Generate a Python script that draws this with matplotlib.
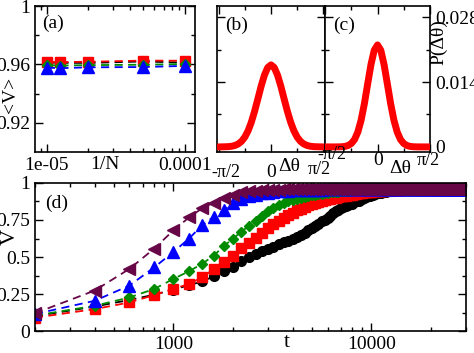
import numpy as np
import matplotlib.pyplot as plt
from matplotlib.ticker import NullFormatter

plt.rcParams['font.family'] = ['Liberation Serif', 'DejaVu Serif']
plt.rcParams['font.size'] = 14

# colours (xmgrace palette)
c_black, c_red, c_green, c_blue, c_maroon = 'black', '#ff0000', '#008b00', '#0000ff', '#670748'

# ---- panel (a): <V> vs 1/N
inv_N = [1e-5, 1.25e-5, 2e-5, 5e-5, 1e-4]
a_black = [0.9612, 0.9611, 0.9610, 0.9620, 0.9612]
a_red = [0.9617, 0.9616, 0.9618, 0.9626, 0.9625]
a_green = [0.9596, 0.9592, 0.9595, 0.9598, 0.9602]
a_blue = [0.9578, 0.9574, 0.9580, 0.9582, 0.9590]

# ---- panels (b), (c): P(dtheta)
dtheta = np.arange(-16, 17) * np.pi / 32
p_b = [0, 0.00001, 0.00003, 0.00006, 0.00014, 0.00031, 0.00063, 0.00119, 0.00209,
       0.00345, 0.00532, 0.00768, 0.01037, 0.01311, 0.01549, 0.01712, 0.0177,
       0.01712, 0.01549, 0.01311, 0.01037, 0.00768, 0.00532, 0.00345, 0.00209,
       0.00119, 0.00063, 0.00031, 0.00014, 0.00006, 0.00003, 0.00001, 0]
p_c = [0, 0, 0, 0, 0.00001, 0.00003, 0.0001, 0.00029, 0.00072, 0.0016, 0.0032,
       0.00577, 0.00934, 0.01359, 0.01775, 0.02085, 0.0220,
       0.02085, 0.01775, 0.01359, 0.00934, 0.00577, 0.0032, 0.0016, 0.00072,
       0.00029, 0.0001, 0.00003, 0.00001, 0, 0, 0, 0]
# fitted curves (black), nearly hidden under the data
fit_b = [0, 0.00001, 0.00003, 0.00006, 0.00014, 0.00031, 0.00063, 0.00119, 0.00209,
         0.00345, 0.00532, 0.00768, 0.01037, 0.01313, 0.01553, 0.01718, 0.0178,
         0.01718, 0.01553, 0.01313, 0.01037, 0.00768, 0.00532, 0.00345, 0.00209,
         0.00119, 0.00063, 0.00031, 0.00014, 0.00006, 0.00003, 0.00001, 0]
fit_c = [0, 0, 0, 0, 0.00001, 0.00003, 0.0001, 0.00029, 0.00072, 0.0016, 0.0032,
         0.00577, 0.00934, 0.01362, 0.01785, 0.02105, 0.0224,
         0.02105, 0.01785, 0.01362, 0.00934, 0.00577, 0.0032, 0.0016, 0.00072,
         0.00029, 0.0001, 0.00003, 0.00001, 0, 0, 0, 0]

# ---- panel (d): V(t)
t = np.arange(200, 30001, 200)
v_black = [
    0.10, 0.165, 0.21, 0.245, 0.28, 0.31, 0.335, 0.37, 0.405, 0.435,
    0.475, 0.50, 0.52, 0.54, 0.555, 0.57, 0.585, 0.60, 0.61, 0.62,
    0.635, 0.65, 0.665, 0.68, 0.695, 0.71, 0.725, 0.74, 0.75, 0.765,
    0.78, 0.795, 0.81, 0.82, 0.83, 0.84, 0.845, 0.85, 0.855, 0.86,
    0.87, 0.875, 0.88, 0.89, 0.895, 0.90, 0.905, 0.91, 0.915, 0.92,
    0.92, 0.925, 0.93, 0.93, 0.935, 0.935, 0.94, 0.94, 0.94, 0.945,
    0.945, 0.945, 0.948, 0.948, 0.95, 0.95, 0.95, 0.952, 0.952, 0.953,
    0.953, 0.954, 0.954, 0.955, 0.955, 0.955, 0.956, 0.956, 0.957, 0.957,
    0.957, 0.958, 0.958, 0.958, 0.958, 0.959, 0.959, 0.959, 0.959, 0.96,
    0.96, 0.96, 0.961, 0.96, 0.96, 0.959, 0.96, 0.961, 0.96, 0.96,
    0.961, 0.96, 0.96, 0.959, 0.96, 0.96, 0.961, 0.96, 0.96, 0.961,
    0.96, 0.959, 0.96, 0.961, 0.96, 0.96, 0.96, 0.961, 0.96, 0.959,
    0.96, 0.96, 0.961, 0.96, 0.96, 0.96, 0.959, 0.96, 0.961, 0.96,
    0.96, 0.961, 0.96, 0.96, 0.959, 0.96, 0.96, 0.961, 0.96, 0.96,
    0.96, 0.96, 0.961, 0.96, 0.959, 0.96, 0.96, 0.96, 0.961, 0.96]
v_red = [
    0.09, 0.148, 0.193, 0.243, 0.284, 0.318, 0.364, 0.42, 0.466, 0.505,
    0.56, 0.595, 0.63, 0.665, 0.695, 0.72, 0.745, 0.765, 0.785, 0.80,
    0.815, 0.825, 0.84, 0.85, 0.86, 0.865, 0.87, 0.88, 0.885, 0.89,
    0.895, 0.90, 0.90, 0.905, 0.91, 0.912, 0.915, 0.918, 0.92, 0.922,
    0.925, 0.927, 0.93, 0.932, 0.934, 0.936, 0.938, 0.94, 0.941, 0.942,
    0.943, 0.944, 0.945, 0.946, 0.947, 0.948, 0.949, 0.95, 0.95, 0.951,
    0.952, 0.952, 0.953, 0.953, 0.954, 0.954, 0.955, 0.955, 0.956, 0.956,
    0.957, 0.957, 0.957, 0.958, 0.958, 0.958, 0.959, 0.959, 0.959, 0.96,
    0.96, 0.96, 0.961, 0.96, 0.96, 0.96, 0.961, 0.96, 0.96, 0.959,
    0.96, 0.961, 0.96, 0.96, 0.96, 0.961, 0.96, 0.959, 0.96, 0.96,
    0.961, 0.96, 0.96, 0.96, 0.961, 0.96, 0.96, 0.959, 0.96, 0.961,
    0.96, 0.96, 0.96, 0.961, 0.96, 0.96, 0.96, 0.961, 0.96, 0.96,
    0.959, 0.96, 0.96, 0.961, 0.96, 0.96, 0.96, 0.96, 0.961, 0.96,
    0.96, 0.96, 0.959, 0.96, 0.961, 0.96, 0.96, 0.96, 0.96, 0.961,
    0.96, 0.96, 0.96, 0.961, 0.96, 0.96, 0.959, 0.96, 0.96, 0.96]
v_green = [
    0.105, 0.17, 0.227, 0.284, 0.352, 0.404, 0.455, 0.51, 0.575, 0.625,
    0.67, 0.71, 0.745, 0.775, 0.81, 0.83, 0.85, 0.865, 0.875, 0.885,
    0.893, 0.90, 0.906, 0.912, 0.917, 0.921, 0.925, 0.928, 0.931, 0.934,
    0.936, 0.938, 0.94, 0.942, 0.944, 0.946, 0.947, 0.948, 0.949, 0.95,
    0.951, 0.952, 0.953, 0.953, 0.954, 0.955, 0.955, 0.956, 0.956, 0.957,
    0.957, 0.958, 0.958, 0.958, 0.959, 0.959, 0.959, 0.96, 0.96, 0.96,
    0.961, 0.96, 0.96, 0.96, 0.961, 0.96, 0.96, 0.959, 0.96, 0.96,
    0.96, 0.961, 0.96, 0.96, 0.96, 0.961, 0.96, 0.96, 0.959, 0.96,
    0.96, 0.96, 0.961, 0.96, 0.96, 0.96, 0.96, 0.961, 0.96, 0.96,
    0.959, 0.96, 0.96, 0.961, 0.96, 0.96, 0.96, 0.96, 0.961, 0.96,
    0.96, 0.96, 0.959, 0.96, 0.961, 0.96, 0.96, 0.96, 0.96, 0.961,
    0.96, 0.96, 0.96, 0.961, 0.96, 0.96, 0.959, 0.96, 0.96, 0.96,
    0.961, 0.96, 0.96, 0.96, 0.96, 0.961, 0.96, 0.96, 0.959, 0.96,
    0.96, 0.96, 0.961, 0.96, 0.96, 0.96, 0.96, 0.961, 0.96, 0.96,
    0.96, 0.961, 0.96, 0.96, 0.959, 0.96, 0.96, 0.96, 0.961, 0.96]
v_blue = [
    0.115, 0.204, 0.307, 0.43, 0.534, 0.625, 0.716, 0.772, 0.818, 0.864,
    0.895, 0.91, 0.92, 0.93, 0.935, 0.94, 0.943, 0.946, 0.948, 0.95,
    0.951, 0.952, 0.953, 0.954, 0.955, 0.955, 0.956, 0.956, 0.957, 0.957,
    0.958, 0.958, 0.958, 0.959, 0.959, 0.959, 0.96, 0.96, 0.96, 0.961,
    0.96, 0.96, 0.961, 0.96, 0.96, 0.96, 0.961, 0.96, 0.96, 0.959,
    0.96, 0.961, 0.96, 0.96, 0.96, 0.961, 0.96, 0.96, 0.96, 0.961,
    0.96, 0.96, 0.959, 0.96, 0.961, 0.96, 0.96, 0.96, 0.961, 0.96,
    0.96, 0.96, 0.961, 0.96, 0.96, 0.959, 0.96, 0.96, 0.961, 0.96,
    0.96, 0.961, 0.96, 0.96, 0.96, 0.96, 0.961, 0.96, 0.96, 0.959,
    0.96, 0.96, 0.961, 0.96, 0.96, 0.96, 0.961, 0.96, 0.96, 0.96,
    0.961, 0.96, 0.96, 0.959, 0.96, 0.96, 0.961, 0.96, 0.96, 0.96,
    0.96, 0.961, 0.96, 0.96, 0.96, 0.961, 0.96, 0.959, 0.96, 0.96,
    0.96, 0.96, 0.961, 0.96, 0.96, 0.96, 0.961, 0.96, 0.96, 0.96,
    0.959, 0.96, 0.96, 0.961, 0.96, 0.96, 0.96, 0.961, 0.96, 0.96,
    0.96, 0.96, 0.961, 0.96, 0.96, 0.959, 0.96, 0.96, 0.961, 0.96]
v_maroon = [
    0.12, 0.273, 0.42, 0.557, 0.68, 0.768, 0.83, 0.868, 0.898, 0.92,
    0.936, 0.943, 0.948, 0.951, 0.953, 0.955, 0.956, 0.957, 0.958, 0.958,
    0.959, 0.959, 0.96, 0.96, 0.96, 0.961, 0.96, 0.96, 0.961, 0.96,
    0.96, 0.96, 0.961, 0.96, 0.96, 0.962, 0.96, 0.961, 0.96, 0.96,
    0.961, 0.96, 0.96, 0.961, 0.962, 0.96, 0.96, 0.961, 0.96, 0.96,
    0.96, 0.961, 0.96, 0.96, 0.962, 0.96, 0.961, 0.96, 0.96, 0.961,
    0.96, 0.96, 0.961, 0.96, 0.96, 0.961, 0.962, 0.96, 0.96, 0.961,
    0.96, 0.961, 0.96, 0.96, 0.961, 0.96, 0.96, 0.962, 0.96, 0.961,
    0.96, 0.96, 0.961, 0.96, 0.96, 0.961, 0.96, 0.96, 0.962, 0.96,
    0.961, 0.96, 0.96, 0.961, 0.96, 0.96, 0.961, 0.96, 0.962, 0.96,
    0.96, 0.961, 0.96, 0.96, 0.961, 0.96, 0.96, 0.962, 0.96, 0.961,
    0.96, 0.96, 0.961, 0.96, 0.96, 0.961, 0.96, 0.96, 0.962, 0.96,
    0.961, 0.96, 0.96, 0.961, 0.96, 0.96, 0.961, 0.96, 0.96, 0.962,
    0.96, 0.961, 0.96, 0.96, 0.961, 0.96, 0.96, 0.961, 0.96, 0.96,
    0.962, 0.96, 0.961, 0.96, 0.96, 0.961, 0.96, 0.96, 0.961, 0.96]


def style(ax):
    ax.tick_params(which='both', direction='in', top=True, right=True, labelsize=14)
    ax.tick_params(which='major', length=6, width=1)
    ax.tick_params(which='minor', length=3, width=1)
    for s in ax.spines.values():
        s.set_linewidth(1.2)


fig = plt.figure(figsize=(4.74, 3.53), dpi=100)
ax_a = fig.add_axes([0.0738, 0.5694, 0.3376, 0.4136])
ax_b = fig.add_axes([0.4578, 0.5694, 0.2278, 0.4136])
ax_c = fig.add_axes([0.6857, 0.5694, 0.2215, 0.4136])
ax_d = fig.add_axes([0.0738, 0.0623, 0.9093, 0.4193])

dash = (0, (4.5, 3))

# (a)
for y, c, m, ms in [(a_black, c_black, 'o', 7), (a_red, c_red, 's', 6.5),
                    (a_green, c_green, 'D', 5), (a_blue, c_blue, '^', 8)]:
    ax_a.plot(inv_N, y, color=c, ls=dash, lw=1.3, marker=m, ms=ms, mec=c)
ax_a.set_xscale('log')
ax_a.set_xlim(8.2e-6, 1.18e-4)
ax_a.set_xticks([1e-5, 1e-4], ['1e-05', '0.0001'])
ax_a.xaxis.set_minor_formatter(NullFormatter())
ax_a.set_ylim(0.90, 1.0)
ax_a.set_yticks([0.92, 0.96, 1.0], ['0.92', '0.96', '1'])
ax_a.set_yticks([0.94, 0.98], minor=True)
ax_a.set_xlabel('1/N', fontsize=14)
ax_a.xaxis.set_label_coords(0.44, -0.03)
ax_a.xaxis.label.set_va('top')
ax_a.set_ylabel('<V>', fontsize=14)
ax_a.yaxis.set_label_coords(-0.155, 0.39)
ax_a.yaxis.label.set_va('center')
ax_a.text(0.045, 0.88, '(a)', transform=ax_a.transAxes, fontsize=14, va='center')
style(ax_a)

# (b), (c)
for ax, p, f, lab in [(ax_b, p_b, fit_b, '(b)'), (ax_c, p_c, fit_c, '(c)')]:
    ax.plot(dtheta, f, color='black', lw=1.2, zorder=2)
    ax.plot(dtheta, p, color=c_red, lw=5, solid_capstyle='round', zorder=3)
    ax.set_ylim(-0.0011, 0.0304)
    ax.set_yticks([0, 0.014, 0.028], ['0', '0.014', '0.028'])
    ax.set_yticks([0.007, 0.021], minor=True)
    ax.set_xticks([-np.pi / 2, 0, np.pi / 2], ['', '', ''])
    ax.set_xticks([-np.pi / 4, np.pi / 4], minor=True)
    ax.text(0.075, 0.87, lab, transform=ax.transAxes, fontsize=14, va='center')
    style(ax)
ax_b.set_xlim(-1.616, 1.616)
ax_c.set_xlim(-np.pi / 2, np.pi / 2)
ax_b.tick_params(labelleft=False)
ax_c.tick_params(labelleft=False, labelright=True)
ax_c.set_ylabel('P(Δθ)', fontsize=14)
ax_c.yaxis.set_label_position('right')
ax_c.yaxis.set_label_coords(1.08, 0.75)
ax_c.yaxis.label.set_va('center')

for ax, items in [(ax_b, [('-π/2', 0.083, -0.137), ('0', 0.5, -0.14),
                          ('Δθ', 0.667, -0.10), ('π/2', 0.944, -0.123)]),
                  (ax_c, [('-π/2', 0.067, -0.014), ('0', 0.505, -0.055),
                          ('Δθ', 0.714, -0.116), ('π/2', 0.981, -0.06)])]:
    for s, x, y in items:
        ax.text(x, y, s, transform=ax.transAxes, ha='center', va='center',
                fontsize=14 if s in ('Δθ', '0') else 13)

# (d)
for y, c, m, ms in [(v_black, c_black, 'o', 7), (v_red, c_red, 's', 6.5),
                    (v_green, c_green, 'D', 5), (v_blue, c_blue, '^', 8),
                    (v_maroon, c_maroon, '<', 8)]:
    ax_d.plot(t, y, color=c, ls=dash, lw=1.3, marker=m, ms=ms, mec=c)
ax_d.set_xscale('log')
ax_d.set_xlim(200, 30000)
ax_d.set_xticks([1000, 10000], ['1000', '10000'])
ax_d.xaxis.set_minor_formatter(NullFormatter())
ax_d.set_ylim(0, 1)
ax_d.set_yticks([0, 0.25, 0.5, 0.75, 1], ['0', '0.25', '0.5', '0.75', '1'])
ax_d.set_yticks([0.125, 0.375, 0.625, 0.875], minor=True)
ax_d.set_xlabel('t', fontsize=16)
ax_d.xaxis.set_label_coords(0.585, -0.08)
ax_d.xaxis.label.set_va('center')
ax_d.set_ylabel('V', fontsize=16)
ax_d.yaxis.set_label_coords(-0.058, 0.635)
ax_d.yaxis.label.set_va('center')
ax_d.text(0.023, 0.86, '(d)', transform=ax_d.transAxes, fontsize=14, va='center')
style(ax_d)

fig.savefig('out.png', dpi=100)
